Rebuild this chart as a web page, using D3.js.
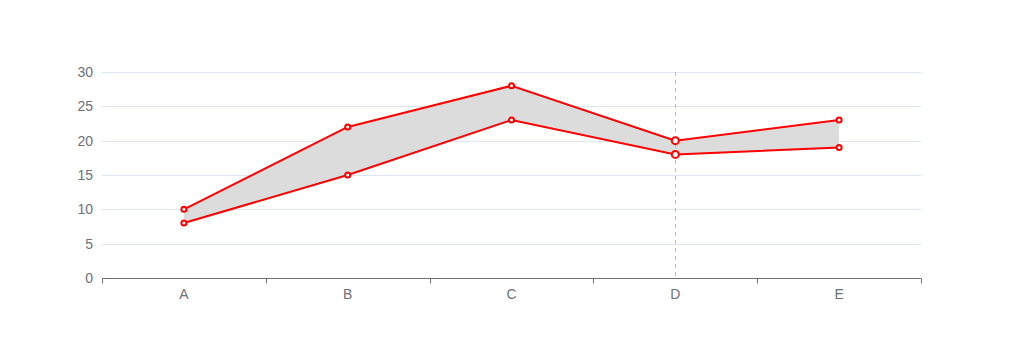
<!DOCTYPE html>
<html>
<head>
<meta charset="utf-8">
<script src="https://cdn.jsdelivr.net/npm/d3@7"></script>
<style>
  body { margin: 0; background: #fff; }
  text { font-family: "Liberation Sans", Arial, sans-serif; }
</style>
</head>
<body>
<svg id="chart" width="1024" height="363"></svg>
<script>
// data
const categories = ['A', 'B', 'C', 'D', 'E']
const upper = [10, 22, 28, 20, 23]
const lower = [8, 15, 23, 18, 19]
const yTicks = [0, 5, 10, 15, 20, 25, 30]
const hovered = 'D'

const svg = d3.select('#chart')
const margin = { left: 102, right: 921, top: 72, bottom: 278 }

const x = d3.scaleBand().domain(categories).range([margin.left, margin.right])
const cx = c => x(c) + x.bandwidth() / 2
const y = d3.scaleLinear().domain([0, 30]).range([margin.bottom, margin.top])

// grid
svg.append('g')
  .selectAll('line')
  .data(yTicks.filter(t => t > 0))
  .enter()
  .append('line')
  .attr('x1', margin.left).attr('x2', margin.right)
  .attr('y1', d => Math.round(y(d)) + 0.5).attr('y2', d => Math.round(y(d)) + 0.5)
  .attr('stroke', '#E0E6F1')

// y labels
svg.append('g')
  .selectAll('text')
  .data(yTicks)
  .enter()
  .append('text')
  .attr('x', margin.left - 9)
  .attr('y', d => y(d))
  .attr('dy', '0.35em')
  .attr('text-anchor', 'end')
  .attr('font-size', 14)
  .attr('fill', '#6E7079')
  .text(d => d)

// x axis
const xAxis = svg.append('g').attr('transform', `translate(0,${margin.bottom + 0.5})`)
xAxis.append('line').attr('x1', margin.left).attr('x2', margin.right).attr('stroke', '#6E7079')
const edges = categories.map(c => x(c)).concat([margin.right])
xAxis.selectAll('.tick')
  .data(edges)
  .enter()
  .append('line')
  .attr('x1', d => Math.round(d) + 0.5).attr('x2', d => Math.round(d) + 0.5)
  .attr('y1', 0).attr('y2', 5)
  .attr('stroke', '#6E7079')
xAxis.selectAll('text')
  .data(categories)
  .enter()
  .append('text')
  .attr('x', cx)
  .attr('y', 16)
  .attr('dy', '0.35em')
  .attr('text-anchor', 'middle')
  .attr('font-size', 14)
  .attr('fill', '#6E7079')
  .text(d => d)

// band
const rows = categories.map((c, i) => ({ c, hi: upper[i], lo: lower[i] }))
svg.append('path')
  .datum(rows)
  .attr('fill', '#dcdcdc')
  .attr('d', d3.area().x(d => cx(d.c)).y0(d => y(d.lo)).y1(d => y(d.hi)))

// axis pointer
svg.append('line')
  .attr('x1', Math.round(cx(hovered)) + 0.5).attr('x2', Math.round(cx(hovered)) + 0.5)
  .attr('y1', margin.top).attr('y2', margin.bottom)
  .attr('stroke', '#B6BDC9')
  .attr('stroke-dasharray', '4,4')

// lines and points
const line = d3.line().x(d => cx(d.c)).y(d => d.v)
;[upper, lower].forEach(series => {
  const pts = categories.map((c, i) => ({ c, v: y(series[i]) }))
  svg.append('path')
    .datum(pts)
    .attr('fill', 'none')
    .attr('stroke', '#ff0000')
    .attr('stroke-width', 2)
    .attr('d', line)
  svg.append('g')
    .selectAll('circle')
    .data(pts)
    .enter()
    .append('circle')
    .attr('cx', d => cx(d.c))
    .attr('cy', d => d.v)
    .attr('r', d => d.c === hovered ? 3.5 : 2.5)
    .attr('fill', '#fff')
    .attr('stroke', '#ff0000')
    .attr('stroke-width', 2)
})
</script>
</body>
</html>
